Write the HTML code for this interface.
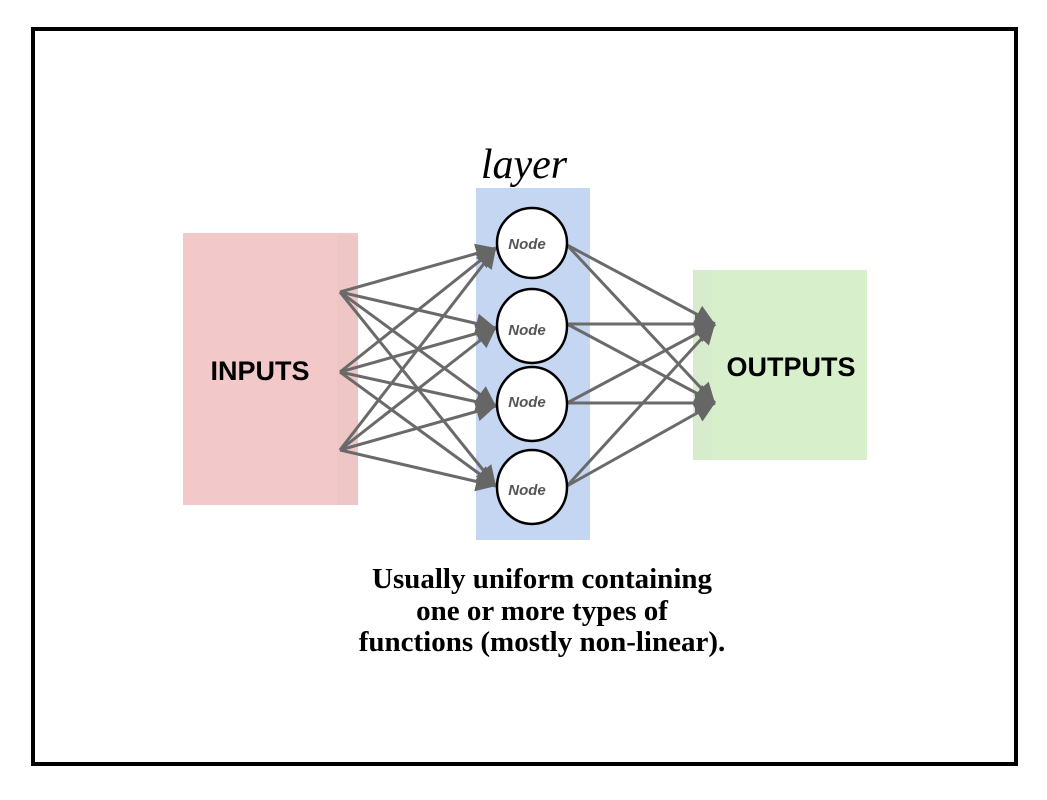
<!DOCTYPE html>
<html><head><style>
body{margin:0;background:#fff;width:1047px;height:795px;overflow:hidden}
</style></head><body>
<svg width="1047" height="795" xmlns="http://www.w3.org/2000/svg">
<defs>
<marker id="ah" viewBox="0 0 10 10" refX="10" refY="5" markerWidth="20" markerHeight="20" markerUnits="userSpaceOnUse" orient="auto"><path d="M0,0 L10,5 L0,10 z" fill="#666"/></marker>
</defs>
<rect x="33" y="29" width="983" height="735" fill="none" stroke="#000" stroke-width="4"/>
<rect x="183" y="233" width="175" height="272" fill="#f2c8c8"/>
<rect x="337" y="235" width="21" height="270" fill="#eec6c6"/>
<rect x="476" y="188" width="114" height="352" fill="#c5d6f2"/>
<rect x="693" y="270" width="174" height="190" fill="#d7eccd"/>
<rect x="712" y="270" width="155" height="190" fill="#d8efcc"/>
<g stroke="#6a6a6a" stroke-width="3" marker-end="url(#ah)" fill="none">
<line x1="340" y1="292" x2="496" y2="248"/>
<line x1="340" y1="292" x2="496" y2="328"/>
<line x1="340" y1="292" x2="496" y2="406"/>
<line x1="340" y1="292" x2="496" y2="486"/>
<line x1="340" y1="372" x2="496" y2="248"/>
<line x1="340" y1="372" x2="496" y2="328"/>
<line x1="340" y1="372" x2="496" y2="406"/>
<line x1="340" y1="372" x2="496" y2="486"/>
<line x1="340" y1="450" x2="496" y2="248"/>
<line x1="340" y1="450" x2="496" y2="328"/>
<line x1="340" y1="450" x2="496" y2="406"/>
<line x1="340" y1="450" x2="496" y2="486"/>
<line x1="567" y1="245" x2="715" y2="324"/>
<line x1="567" y1="245" x2="715" y2="403"/>
<line x1="567" y1="324" x2="715" y2="324"/>
<line x1="567" y1="324" x2="715" y2="403"/>
<line x1="567" y1="403" x2="715" y2="324"/>
<line x1="567" y1="403" x2="715" y2="403"/>
<line x1="567" y1="486" x2="715" y2="324"/>
<line x1="567" y1="486" x2="715" y2="403"/>
</g>
<g fill="#fff" stroke="#000" stroke-width="2.5">
<ellipse cx="532" cy="243" rx="35" ry="35"/>
<ellipse cx="532" cy="326" rx="35" ry="37"/>
<ellipse cx="532" cy="404" rx="35" ry="37"/>
<ellipse cx="532" cy="487" rx="35" ry="37"/>
</g>
<g font-family="Liberation Sans, sans-serif" font-style="italic" font-weight="bold" font-size="15" fill="#555" text-anchor="middle">
<text x="527" y="249">Node</text>
<text x="527" y="335">Node</text>
<text x="527" y="407">Node</text>
<text x="527" y="495">Node</text>
</g>
<g font-family="Liberation Sans, sans-serif" font-weight="bold" font-size="27" fill="#000" text-anchor="middle">
<text x="260" y="380">INPUTS</text>
<text x="791" y="376">OUTPUTS</text>
</g>
<text x="524" y="178" font-family="Liberation Serif, serif" font-style="italic" font-size="42" text-anchor="middle">layer</text>
<g font-family="Liberation Serif, serif" font-weight="bold" font-size="29" text-anchor="middle">
<text x="542" y="588">Usually uniform containing</text>
<text x="542" y="620">one or more types of</text>
<text x="542" y="651">functions (mostly non-linear).</text>
</g>
</svg>
</body></html>
